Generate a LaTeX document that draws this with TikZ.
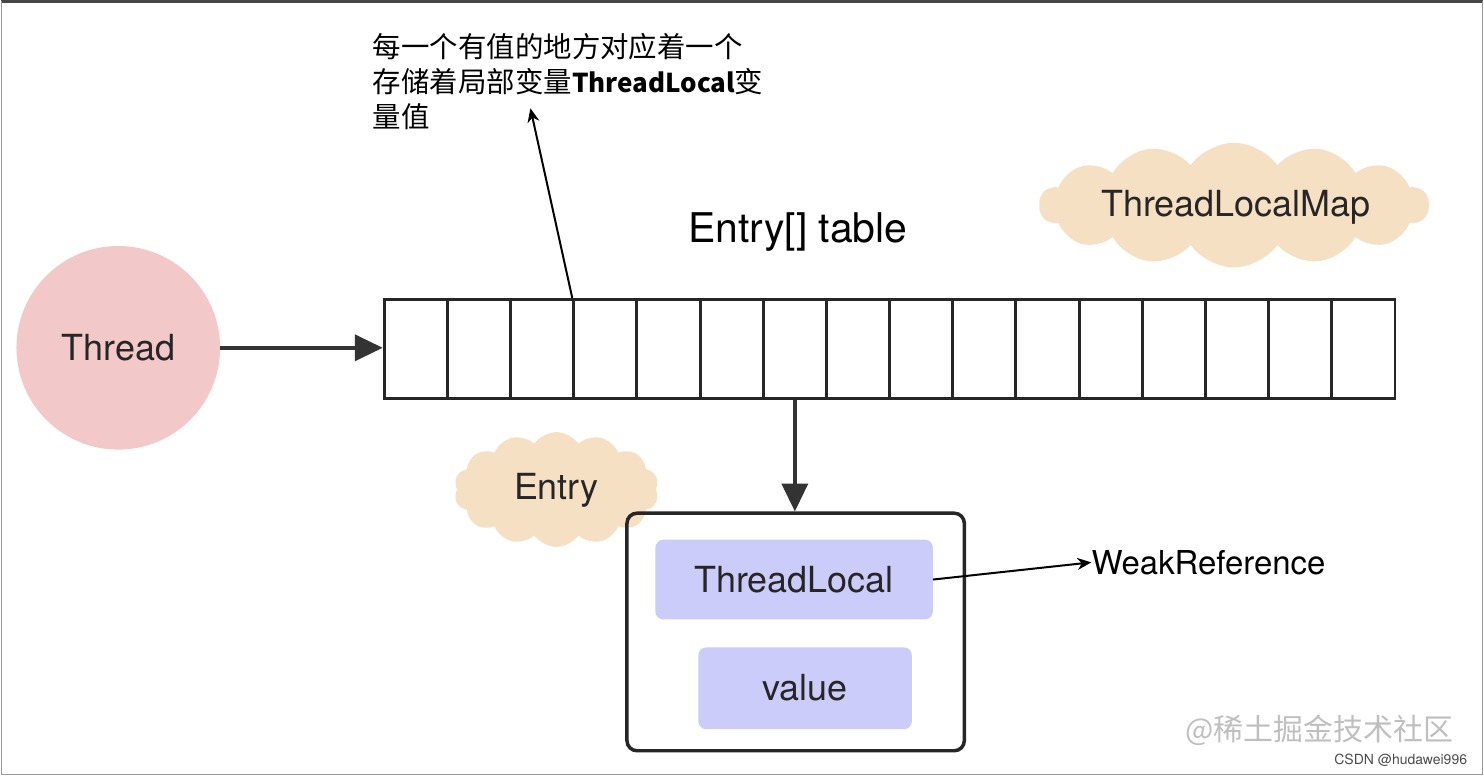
\documentclass[tikz,border=0pt]{standalone}
\usepackage{fontspec}
\setmainfont{TeX Gyre Heros}
\newfontfamily\cjk{Noto Sans CJK SC}
\usetikzlibrary{shapes.symbols,arrows.meta}
\definecolor{pinkc}{RGB}{242,200,200}
\definecolor{beige}{RGB}{246,224,196}
\definecolor{lav}{RGB}{204,204,250}
\definecolor{frame}{RGB}{70,70,70}
\begin{document}
\begin{tikzpicture}[x=1pt,y=-1pt,
  lbl/.style={font=\fontsize{36}{40}\selectfont, text=black!85},
  cloudy/.style={cloud, cloud puffs=14, cloud puff arc=110, fill=beige, draw=none, aspect=3},
  fat/.style={line width=4pt, draw=black!80, -{Triangle[length=28pt,width=26pt]}},
  thin/.style={line width=2pt, draw=black, -{Stealth[length=14pt,width=12pt]}},
  lavbox/.style={fill=lav, rounded corners=8pt, draw=none}]
\fill[white] (0,0) rectangle (1484,776);
\draw[frame, line width=3pt] (0,1) -- (1484,1);
\draw[black!40, line width=1pt] (0.5,0) -- (0.5,776) (1483.5,0) -- (1483.5,776) (0,775.5) -- (1484,775.5);
% Thread
\node[circle, fill=pinkc, minimum size=204pt, inner sep=0pt, lbl] (thread) at (117,348) {Thread};
% table
\foreach \i in {0,...,15}{
  \node[draw=black!85, line width=3pt, minimum width=63.3pt, minimum height=99pt, inner sep=0pt, anchor=north west] (c\i) at ({382+\i*63.3},298) {};
}
\coordinate (tleft) at (382,348);
\draw[fat] (thread.east) -- (tleft);
\node[font=\fontsize{41}{44}\selectfont] (et) at (798,232) {Entry[] table};
\node[cloudy, minimum width=390pt, minimum height=125pt] (tlm) at (1235,205) {};
\node[lbl] (tlmt) at (1237,207) {ThreadLocalMap};
% note
\node[anchor=north west, align=left, font=\cjk\fontsize{28.5}{35}\selectfont, inner sep=0pt] (note) at (372,33)
 {每一个有值的地方对应着一个\\存储着局部变量{\fontsize{26}{35}\selectfont\bfseries ThreadLocal}变\\量值};
\coordinate (noteend) at (530,108);
\draw[thin] (c3.north west) -- (noteend);
% entry
\node[cloudy, minimum width=205pt, minimum height=115pt] (entc) at (556,490) {};
\node[lbl] (entt) at (556,491) {Entry};
\node[draw=black!85, line width=3.5pt, rounded corners=10pt, minimum width=338pt, minimum height=238pt, anchor=north west, inner sep=0pt] (box) at (625,512) {};
\draw[fat] (c6.south) -- (box.north -| c6.south);
\node[lavbox, minimum width=278pt, minimum height=80pt, anchor=north west] (tl) at (655,540) {};
\node[lbl] (tlt) at (794,580) {ThreadLocal};
\node[lavbox, minimum width=214pt, minimum height=82pt, anchor=north west] (val) at (698,648) {};
\node[lbl] (valt) at (805,689) {value};
\node[anchor=west, inner sep=0pt, font=\fontsize{33}{36}\selectfont] (weak) at (1092,563) {WeakReference};
\draw[thin] (tl.east) -- (weak.west);
% watermarks
\node[anchor=east, font=\cjk\fontsize{30}{32}\selectfont, text=black!25] (wm) at (1458,731) {@稀土掘金技术社区};
\node[anchor=east, font=\fontsize{14}{16}\selectfont, text=black!70] (csdn) at (1472,761) {CSDN @hudawei996};
\end{tikzpicture}
\end{document}
